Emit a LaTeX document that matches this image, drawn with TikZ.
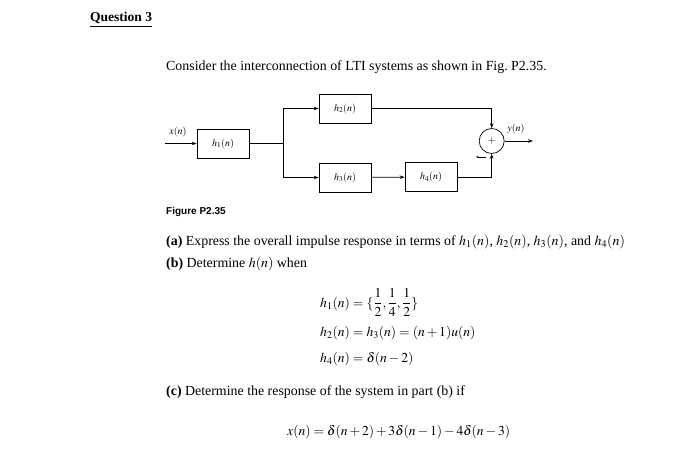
\documentclass[tikz,border=0pt]{standalone}
\usepackage{mathptmx}
\usepackage{fontspec}
\setmainfont{Liberation Serif}
\setsansfont{Liberation Sans}
\usetikzlibrary{arrows.meta}
\begin{document}
\begin{tikzpicture}[x=1pt,y=-1pt,
  blk/.style={draw, line width=0.7pt, minimum width=52pt, minimum height=29pt, inner sep=0pt, font=\fontsize{10}{11}\selectfont},
  wire/.style={line width=0.7pt},
  arr/.style={line width=0.7pt, -{Stealth[length=5pt,width=3.5pt]}},
  lbl/.style={font=\fontsize{10}{11}\selectfont, inner sep=0pt},
  txt/.style={anchor=base west, inner sep=0pt, font=\fontsize{13.9}{16}\selectfont},
  eqn/.style={anchor=base west, inner sep=0pt, font=\fontsize{13.6}{16}\selectfont}]
\useasboundingbox (0,0) rectangle (700,460);
% header text
\node[txt, font=\fontsize{13.5}{16}\selectfont\bfseries] (q) at (90,22) {\underline{Question 3}};
\node[txt] (intro) at (166,70) {Consider the interconnection of LTI systems as shown in Fig.~P2.35.};
% diagram
\node[blk] (h1) at (223,143.5) {$h_1(n)$};
\node[blk] (h2) at (345,108.5) {$h_2(n)$};
\node[blk] (h3) at (345,177.5) {$h_3(n)$};
\node[blk] (h4) at (431,177) {$h_4(n)$};
\node[draw, circle, line width=0.7pt, minimum size=25pt, inner sep=0pt, font=\fontsize{10}{11}\selectfont] (add) at (491.7,141) {$+$};
\coordinate (xin) at (165,143.5);
\coordinate (br) at (283,143.5);
\coordinate (yout) at (533,141);
\coordinate (sa) at (486,157);
\coordinate (sb) at (476,157);
\draw[arr] (xin) -- (h1.west);
\draw[wire] (h1.east) -- (br);
\draw[arr] (br) |- (h2.west);
\draw[arr] (br) |- (h3.west);
\draw[arr] (h3) -- (h4);
\draw[arr] (h2.east) -| (add.north);
\draw[arr] (h4.east) -| (add.south);
\draw[arr] (add.east) -- (yout);
\draw[line width=0.4pt, -{Stealth[length=2.5pt,width=2pt]}] (sa) -- (sb);
\node[lbl] (xl) at (178,132) {$x(n)$};
\node[lbl] (yl) at (516,129) {$y(n)$};
% text below
\node[txt, font=\sffamily\bfseries\fontsize{10}{12}\selectfont] (fig) at (166,214) {Figure P2.35};
\node[txt] (a) at (166,245) {\textbf{(a)} Express the overall impulse response in terms of $h_1(n)$, $h_2(n)$, $h_3(n)$, and $h_4(n)$};
\node[txt] (b) at (166,267) {\textbf{(b)} Determine $h(n)$ when};
\node[eqn] (e1) at (320,307) {$\displaystyle h_1(n) = \{\frac{1}{2},\frac{1}{4},\frac{1}{2}\}$};
\node[eqn] (e2) at (320,336) {$h_2(n) = h_3(n) = (n+1)u(n)$};
\node[eqn] (e3) at (320,362) {$h_4(n) = \delta(n-2)$};
\node[txt] (c) at (166,395) {\textbf{(c)} Determine the response of the system in part (b) if};
\node[eqn] (e4) at (287,435) {$x(n) = \delta(n+2) + 3\delta(n-1) - 4\delta(n-3)$};
\end{tikzpicture}
\end{document}
